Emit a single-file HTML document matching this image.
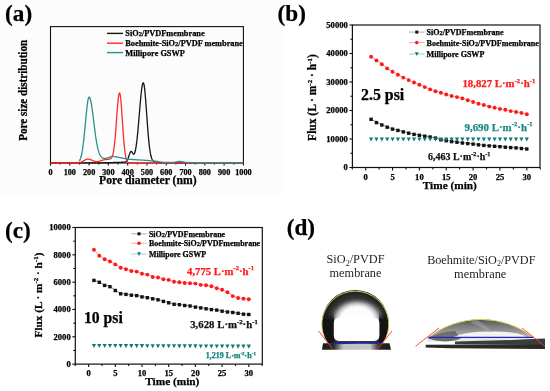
<!DOCTYPE html>
<html><head><meta charset="utf-8"><style>
html,body{margin:0;padding:0;background:#fff;}
body{width:550px;height:391px;overflow:hidden;}
svg{display:block;will-change:transform;font-family:"Liberation Serif", serif;}
</style></head><body>
<svg width="550" height="391" viewBox="0 0 550 391">
<rect width="550" height="391" fill="#fff"/>
<rect width="283" height="194" fill="#fcfcfc"/>
<text x="5.10" y="20.80" font-size="23.2" font-weight="bold" fill="#000" text-anchor="start" stroke="#000" stroke-width="0.25" >(a)</text>
<rect x="50.5" y="26.6" width="192.9" height="136.4" fill="none" stroke="#111" stroke-width="1.1"/>
<line x1="50.50" y1="163.0" x2="50.50" y2="165.6" stroke="#111" stroke-width="1.1"/>
<line x1="60.14" y1="163.0" x2="60.14" y2="164.6" stroke="#111" stroke-width="1.1"/>
<line x1="69.79" y1="163.0" x2="69.79" y2="165.6" stroke="#111" stroke-width="1.1"/>
<line x1="79.44" y1="163.0" x2="79.44" y2="164.6" stroke="#111" stroke-width="1.1"/>
<line x1="89.08" y1="163.0" x2="89.08" y2="165.6" stroke="#111" stroke-width="1.1"/>
<line x1="98.72" y1="163.0" x2="98.72" y2="164.6" stroke="#111" stroke-width="1.1"/>
<line x1="108.37" y1="163.0" x2="108.37" y2="165.6" stroke="#111" stroke-width="1.1"/>
<line x1="118.02" y1="163.0" x2="118.02" y2="164.6" stroke="#111" stroke-width="1.1"/>
<line x1="127.66" y1="163.0" x2="127.66" y2="165.6" stroke="#111" stroke-width="1.1"/>
<line x1="137.31" y1="163.0" x2="137.31" y2="164.6" stroke="#111" stroke-width="1.1"/>
<line x1="146.95" y1="163.0" x2="146.95" y2="165.6" stroke="#111" stroke-width="1.1"/>
<line x1="156.59" y1="163.0" x2="156.59" y2="164.6" stroke="#111" stroke-width="1.1"/>
<line x1="166.24" y1="163.0" x2="166.24" y2="165.6" stroke="#111" stroke-width="1.1"/>
<line x1="175.88" y1="163.0" x2="175.88" y2="164.6" stroke="#111" stroke-width="1.1"/>
<line x1="185.53" y1="163.0" x2="185.53" y2="165.6" stroke="#111" stroke-width="1.1"/>
<line x1="195.18" y1="163.0" x2="195.18" y2="164.6" stroke="#111" stroke-width="1.1"/>
<line x1="204.82" y1="163.0" x2="204.82" y2="165.6" stroke="#111" stroke-width="1.1"/>
<line x1="214.47" y1="163.0" x2="214.47" y2="164.6" stroke="#111" stroke-width="1.1"/>
<line x1="224.11" y1="163.0" x2="224.11" y2="165.6" stroke="#111" stroke-width="1.1"/>
<line x1="233.75" y1="163.0" x2="233.75" y2="164.6" stroke="#111" stroke-width="1.1"/>
<line x1="243.40" y1="163.0" x2="243.40" y2="165.6" stroke="#111" stroke-width="1.1"/>
<text x="50.50" y="174.90" font-size="8.2" font-weight="bold" fill="#000" text-anchor="middle" stroke="#000" stroke-width="0.25" >0</text>
<text x="69.79" y="174.90" font-size="8.2" font-weight="bold" fill="#000" text-anchor="middle" stroke="#000" stroke-width="0.25" >100</text>
<text x="89.08" y="174.90" font-size="8.2" font-weight="bold" fill="#000" text-anchor="middle" stroke="#000" stroke-width="0.25" >200</text>
<text x="108.37" y="174.90" font-size="8.2" font-weight="bold" fill="#000" text-anchor="middle" stroke="#000" stroke-width="0.25" >300</text>
<text x="127.66" y="174.90" font-size="8.2" font-weight="bold" fill="#000" text-anchor="middle" stroke="#000" stroke-width="0.25" >400</text>
<text x="146.95" y="174.90" font-size="8.2" font-weight="bold" fill="#000" text-anchor="middle" stroke="#000" stroke-width="0.25" >500</text>
<text x="166.24" y="174.90" font-size="8.2" font-weight="bold" fill="#000" text-anchor="middle" stroke="#000" stroke-width="0.25" >600</text>
<text x="185.53" y="174.90" font-size="8.2" font-weight="bold" fill="#000" text-anchor="middle" stroke="#000" stroke-width="0.25" >700</text>
<text x="204.82" y="174.90" font-size="8.2" font-weight="bold" fill="#000" text-anchor="middle" stroke="#000" stroke-width="0.25" >800</text>
<text x="224.11" y="174.90" font-size="8.2" font-weight="bold" fill="#000" text-anchor="middle" stroke="#000" stroke-width="0.25" >900</text>
<text x="243.40" y="174.90" font-size="8.2" font-weight="bold" fill="#000" text-anchor="middle" stroke="#000" stroke-width="0.25" >1000</text>
<text x="147.80" y="184.20" font-size="11.7" font-weight="bold" fill="#000" text-anchor="middle" stroke="#000" stroke-width="0.25" >Pore diameter (nm)</text>
<text transform="translate(27.4,90.3) rotate(-90)" x="-50.5" y="0" font-size="11.9" font-weight="bold" stroke="#000" stroke-width="0.25" textLength="101" lengthAdjust="spacingAndGlyphs">Pore size distribution</text>
<polyline points="50.50,163.00 50.89,163.00 51.27,163.00 51.66,163.00 52.04,162.99 52.43,162.99 52.81,162.99 53.20,162.99 53.59,162.99 53.97,162.99 54.36,162.99 54.74,162.98 55.13,162.98 55.52,162.98 55.90,162.98 56.29,162.98 56.67,162.98 57.06,162.98 57.44,162.97 57.83,162.97 58.22,162.97 58.60,162.97 58.99,162.97 59.37,162.97 59.76,162.97 60.14,162.96 60.53,162.96 60.92,162.96 61.30,162.96 61.69,162.96 62.07,162.96 62.46,162.96 62.85,162.95 63.23,162.95 63.62,162.95 64.00,162.95 64.39,162.95 64.77,162.95 65.16,162.95 65.55,162.94 65.93,162.94 66.32,162.94 66.70,162.94 67.09,162.94 67.48,162.94 67.86,162.94 68.25,162.93 68.63,162.93 69.02,162.93 69.40,162.93 69.79,162.93 70.18,162.93 70.56,162.93 70.95,162.92 71.33,162.92 71.72,162.92 72.10,162.92 72.49,162.92 72.88,162.92 73.26,162.92 73.65,162.91 74.03,162.91 74.42,162.91 74.81,162.91 75.19,162.91 75.58,162.91 75.96,162.91 76.35,162.90 76.73,162.90 77.12,162.90 77.51,162.90 77.89,162.90 78.28,162.90 78.66,162.90 79.05,162.89 79.44,162.89 79.82,162.89 80.21,162.89 80.59,162.89 80.98,162.89 81.36,162.89 81.75,162.88 82.14,162.88 82.52,162.88 82.91,162.88 83.29,162.88 83.68,162.88 84.06,162.88 84.45,162.87 84.84,162.87 85.22,162.87 85.61,162.87 85.99,162.87 86.38,162.87 86.77,162.87 87.15,162.86 87.54,162.86 87.92,162.86 88.31,162.86 88.69,162.86 89.08,162.86 89.47,162.86 89.85,162.85 90.24,162.85 90.62,162.85 91.01,162.85 91.39,162.85 91.78,162.85 92.17,162.85 92.55,162.84 92.94,162.84 93.32,162.84 93.71,162.84 94.10,162.84 94.48,162.84 94.87,162.84 95.25,162.83 95.64,162.83 96.02,162.83 96.41,162.83 96.80,162.83 97.18,162.83 97.57,162.83 97.95,162.82 98.34,162.82 98.72,162.82 99.11,162.82 99.50,162.82 99.88,162.82 100.27,162.82 100.65,162.81 101.04,162.81 101.43,162.81 101.81,162.81 102.20,162.81 102.58,162.81 102.97,162.81 103.35,162.80 103.74,162.80 104.13,162.80 104.51,162.79 104.90,162.78 105.28,162.77 105.67,162.76 106.06,162.75 106.44,162.74 106.83,162.73 107.21,162.72 107.60,162.70 107.98,162.69 108.37,162.68 108.76,162.67 109.14,162.66 109.53,162.64 109.91,162.63 110.30,162.62 110.68,162.61 111.07,162.60 111.46,162.58 111.84,162.57 112.23,162.56 112.61,162.55 113.00,162.54 113.39,162.52 113.77,162.51 114.16,162.50 114.54,162.49 114.93,162.48 115.31,162.46 115.70,162.45 116.09,162.44 116.47,162.43 116.86,162.42 117.24,162.40 117.63,162.39 118.02,162.38 118.40,162.37 118.79,162.36 119.17,162.34 119.56,162.33 119.94,162.32 120.33,162.31 120.72,162.30 121.10,162.28 121.49,162.27 121.87,162.26 122.26,162.25 122.64,162.23 123.03,162.21 123.42,162.19 123.80,162.15 124.19,162.11 124.57,162.05 124.96,161.97 125.35,161.86 125.73,161.70 126.12,161.48 126.50,161.17 126.89,160.75 127.27,160.17 127.66,159.44 128.05,158.53 128.43,157.48 128.82,156.31 129.20,155.10 129.59,153.92 129.97,152.89 130.36,152.09 130.75,151.58 131.13,151.41 131.52,151.55 131.90,151.96 132.29,152.54 132.68,153.16 133.06,153.71 133.45,154.06 133.83,154.13 134.22,153.85 134.60,153.16 134.99,152.05 135.38,150.52 135.76,148.56 136.15,146.19 136.53,143.42 136.92,140.27 137.31,136.77 137.69,132.93 138.08,128.80 138.46,124.43 138.85,119.88 139.23,115.22 139.62,110.53 140.01,105.91 140.39,101.46 140.78,97.27 141.16,93.44 141.55,90.08 141.93,87.28 142.32,85.10 142.71,83.62 143.09,82.87 143.48,82.91 143.86,83.94 144.25,85.95 144.64,88.87 145.02,92.59 145.41,96.97 145.79,101.86 146.18,107.10 146.56,112.53 146.95,118.00 147.34,123.37 147.72,128.53 148.11,133.36 148.49,137.81 148.88,141.83 149.26,145.40 149.65,148.51 150.04,151.17 150.42,153.41 150.81,155.28 151.19,156.80 151.58,158.02 151.97,158.99 152.35,159.74 152.74,160.33 153.12,160.77 153.51,161.10 153.89,161.34 154.28,161.52 154.67,161.65 155.05,161.74 155.44,161.81 155.82,161.85 156.21,161.88 156.59,161.91 156.98,161.92 157.37,161.94 157.75,161.95 158.14,161.96 158.52,161.96 158.91,163.00 159.30,163.00 159.68,163.00 160.07,163.00 160.45,163.00 160.84,163.00 161.22,163.00 161.61,163.00 162.00,163.00 162.38,163.00 162.77,163.00 163.15,163.00 163.54,163.00 163.93,163.00 164.31,163.00 164.70,163.00 165.08,163.00 165.47,163.00 165.85,163.00 166.24,163.00 166.63,163.00 167.01,163.00 167.40,163.00 167.78,163.00 168.17,163.00 168.55,163.00 168.94,163.00 169.33,163.00 169.71,163.00 170.10,163.00 170.48,163.00 170.87,163.00 171.26,163.00 171.64,163.00 172.03,163.00 172.41,163.00 172.80,163.00 173.18,163.00 173.57,163.00 173.96,163.00 174.34,163.00 174.73,163.00 175.11,163.00 175.50,163.00 175.88,163.00 176.27,163.00 176.66,163.00 177.04,163.00 177.43,163.00 177.81,163.00 178.20,163.00 178.59,163.00 178.97,163.00 179.36,163.00 179.74,163.00 180.13,163.00 180.51,163.00 180.90,163.00 181.29,163.00 181.67,163.00 182.06,163.00 182.44,163.00 182.83,163.00 183.22,163.00 183.60,163.00 183.99,163.00 184.37,163.00 184.76,163.00 185.14,163.00 185.53,163.00 185.92,163.00 186.30,163.00 186.69,163.00 187.07,163.00 187.46,163.00 187.84,163.00 188.23,163.00 188.62,163.00 189.00,163.00 189.39,163.00 189.77,163.00 190.16,163.00 190.55,163.00 190.93,163.00 191.32,163.00 191.70,163.00 192.09,163.00 192.47,163.00 192.86,163.00 193.25,163.00 193.63,163.00 194.02,163.00 194.40,163.00 194.79,163.00 195.18,163.00 195.56,163.00 195.95,163.00 196.33,163.00 196.72,163.00 197.10,163.00 197.49,163.00 197.88,163.00 198.26,163.00 198.65,163.00 199.03,163.00 199.42,163.00 199.80,163.00 200.19,163.00 200.58,163.00 200.96,163.00 201.35,163.00 201.73,163.00 202.12,163.00 202.51,163.00 202.89,163.00 203.28,163.00 203.66,163.00 204.05,163.00 204.43,163.00 204.82,163.00 205.21,163.00 205.59,163.00 205.98,163.00 206.36,163.00 206.75,163.00 207.13,163.00 207.52,163.00 207.91,163.00 208.29,163.00 208.68,163.00 209.06,163.00 209.45,163.00 209.84,163.00 210.22,163.00 210.61,163.00 210.99,163.00 211.38,163.00 211.76,163.00 212.15,163.00 212.54,163.00 212.92,163.00 213.31,163.00 213.69,163.00 214.08,163.00 214.47,163.00 214.85,163.00 215.24,163.00 215.62,163.00 216.01,163.00 216.39,163.00 216.78,163.00 217.17,163.00 217.55,163.00 217.94,163.00 218.32,163.00 218.71,163.00 219.09,163.00 219.48,163.00 219.87,163.00 220.25,163.00 220.64,163.00 221.02,163.00 221.41,163.00 221.80,163.00 222.18,163.00 222.57,163.00 222.95,163.00 223.34,163.00 223.72,163.00 224.11,163.00 224.50,163.00 224.88,163.00 225.27,163.00 225.65,163.00 226.04,163.00 226.42,163.00 226.81,163.00 227.20,163.00 227.58,163.00 227.97,163.00 228.35,163.00 228.74,163.00 229.13,163.00 229.51,163.00 229.90,163.00 230.28,163.00 230.67,163.00 231.05,163.00 231.44,163.00 231.83,163.00 232.21,163.00 232.60,163.00 232.98,163.00 233.37,163.00 233.75,163.00 234.14,163.00 234.53,163.00 234.91,163.00 235.30,163.00 235.68,163.00 236.07,163.00 236.46,163.00 236.84,163.00 237.23,163.00 237.61,163.00 238.00,163.00 238.38,163.00 238.77,163.00 239.16,163.00 239.54,163.00 239.93,163.00 240.31,163.00 240.70,163.00 241.09,163.00 241.47,163.00 241.86,163.00 242.24,163.00 242.63,163.00 243.01,163.00 243.40,163.00" fill="none" stroke="#151515" stroke-width="1.3" stroke-linejoin="round"/>
<polyline points="50.50,163.00 50.89,163.00 51.27,163.00 51.66,163.00 52.04,163.00 52.43,163.00 52.81,163.00 53.20,163.00 53.59,163.00 53.97,163.00 54.36,163.00 54.74,163.00 55.13,163.00 55.52,163.00 55.90,163.00 56.29,163.00 56.67,163.00 57.06,163.00 57.44,163.00 57.83,163.00 58.22,163.00 58.60,163.00 58.99,163.00 59.37,163.00 59.76,163.00 60.14,163.00 60.53,163.00 60.92,163.00 61.30,163.00 61.69,163.00 62.07,163.00 62.46,163.00 62.85,163.00 63.23,163.00 63.62,163.00 64.00,163.00 64.39,163.00 64.77,163.00 65.16,163.00 65.55,163.00 65.93,163.00 66.32,163.00 66.70,163.00 67.09,163.00 67.48,163.00 67.86,163.00 68.25,163.00 68.63,163.00 69.02,163.00 69.40,163.00 69.79,163.00 70.18,163.00 70.56,163.00 70.95,163.00 71.33,163.00 71.72,163.00 72.10,163.00 72.49,163.00 72.88,163.00 73.26,163.00 73.65,163.00 74.03,163.00 74.42,163.00 74.81,163.00 75.19,163.00 75.58,163.00 75.96,163.00 76.35,163.00 76.73,163.00 77.12,163.00 77.51,163.00 77.89,162.99 78.28,162.97 78.66,162.94 79.05,162.89 79.44,162.80 79.82,162.69 80.21,162.54 80.59,162.37 80.98,162.19 81.36,162.00 81.75,161.80 82.14,161.60 82.52,161.40 82.91,161.20 83.29,160.99 83.68,160.78 84.06,160.57 84.45,160.35 84.84,160.13 85.22,159.90 85.61,159.68 85.99,159.47 86.38,159.28 86.77,159.14 87.15,159.04 87.54,159.01 87.92,159.02 88.31,159.07 88.69,159.15 89.08,159.25 89.47,159.36 89.85,159.48 90.24,159.60 90.62,159.74 91.01,159.87 91.39,160.02 91.78,160.16 92.17,160.31 92.55,160.45 92.94,160.60 93.32,160.75 93.71,160.89 94.10,161.03 94.48,161.17 94.87,161.30 95.25,161.41 95.64,161.49 96.02,161.55 96.41,161.59 96.80,161.60 97.18,161.59 97.57,161.56 97.95,161.52 98.34,161.47 98.72,161.40 99.11,161.32 99.50,161.22 99.88,161.11 100.27,160.99 100.65,160.86 101.04,160.74 101.43,160.61 101.81,160.49 102.20,160.36 102.58,160.24 102.97,160.11 103.35,159.99 103.74,159.88 104.13,159.78 104.51,159.70 104.90,159.63 105.28,159.58 105.67,159.53 106.06,159.50 106.44,159.46 106.83,159.43 107.21,159.40 107.60,159.36 107.98,159.32 108.37,159.27 108.76,159.22 109.14,159.15 109.53,159.06 109.91,158.96 110.30,158.82 110.68,158.62 111.07,158.35 111.46,157.94 111.84,157.35 112.23,156.53 112.61,155.41 113.00,153.95 113.39,152.08 113.77,149.77 114.16,146.97 114.54,143.67 114.93,139.87 115.31,135.58 115.70,130.88 116.09,125.85 116.47,120.62 116.86,115.34 117.24,110.21 117.63,105.42 118.02,101.17 118.40,97.64 118.79,95.02 119.17,93.42 119.56,92.92 119.94,93.65 120.33,95.63 120.72,98.77 121.10,102.90 121.49,107.80 121.87,113.24 122.26,118.97 122.64,124.76 123.03,130.40 123.42,135.72 123.80,140.58 124.19,144.92 124.57,148.67 124.96,151.86 125.35,154.49 125.73,156.62 126.12,158.31 126.50,159.62 126.89,160.62 127.27,161.36 127.66,161.89 128.05,162.27 128.43,162.53 128.82,162.70 129.20,162.82 129.59,162.89 129.97,162.93 130.36,162.96 130.75,162.98 131.13,162.99 131.52,162.99 131.90,163.00 132.29,163.00 132.68,163.00 133.06,163.00 133.45,163.00 133.83,163.00 134.22,163.00 134.60,163.00 134.99,163.00 135.38,163.00 135.76,163.00 136.15,163.00 136.53,163.00 136.92,163.00 137.31,163.00 137.69,163.00 138.08,163.00 138.46,163.00 138.85,163.00 139.23,163.00 139.62,163.00 140.01,163.00 140.39,163.00 140.78,163.00 141.16,163.00 141.55,163.00 141.93,163.00 142.32,163.00 142.71,163.00 143.09,163.00 143.48,163.00 143.86,163.00 144.25,163.00 144.64,163.00 145.02,163.00 145.41,163.00 145.79,163.00 146.18,163.00 146.56,163.00 146.95,163.00 147.34,163.00 147.72,163.00 148.11,163.00 148.49,163.00 148.88,163.00 149.26,163.00 149.65,163.00 150.04,163.00 150.42,163.00 150.81,163.00 151.19,163.00 151.58,163.00 151.97,163.00 152.35,163.00 152.74,163.00 153.12,163.00 153.51,163.00 153.89,163.00 154.28,163.00 154.67,163.00 155.05,163.00 155.44,163.00 155.82,163.00 156.21,163.00 156.59,163.00 156.98,163.00 157.37,163.00 157.75,163.00 158.14,163.00 158.52,163.00 158.91,163.00 159.30,163.00 159.68,163.00 160.07,163.00 160.45,163.00 160.84,163.00 161.22,163.00 161.61,163.00 162.00,163.00 162.38,163.00 162.77,163.00 163.15,163.00 163.54,163.00 163.93,163.00 164.31,163.00 164.70,163.00 165.08,163.00 165.47,163.00 165.85,163.00 166.24,163.00 166.63,163.00 167.01,163.00 167.40,163.00 167.78,163.00 168.17,163.00 168.55,163.00 168.94,163.00 169.33,163.00 169.71,163.00 170.10,163.00 170.48,163.00 170.87,163.00 171.26,163.00 171.64,163.00 172.03,163.00 172.41,163.00 172.80,163.00 173.18,163.00 173.57,163.00 173.96,163.00 174.34,163.00 174.73,163.00 175.11,163.00 175.50,163.00 175.88,163.00 176.27,163.00 176.66,163.00 177.04,163.00 177.43,163.00 177.81,163.00 178.20,163.00 178.59,163.00 178.97,163.00 179.36,163.00 179.74,163.00 180.13,163.00 180.51,163.00 180.90,163.00 181.29,163.00 181.67,163.00 182.06,163.00 182.44,163.00 182.83,163.00 183.22,163.00 183.60,163.00 183.99,163.00 184.37,163.00 184.76,163.00 185.14,163.00 185.53,163.00 185.92,163.00 186.30,163.00 186.69,163.00 187.07,163.00 187.46,163.00 187.84,163.00 188.23,163.00 188.62,163.00 189.00,163.00 189.39,163.00 189.77,163.00 190.16,163.00 190.55,163.00 190.93,163.00 191.32,163.00 191.70,163.00 192.09,163.00 192.47,163.00 192.86,163.00 193.25,163.00 193.63,163.00 194.02,163.00 194.40,163.00 194.79,163.00 195.18,163.00 195.56,163.00 195.95,163.00 196.33,163.00 196.72,163.00 197.10,163.00 197.49,163.00 197.88,163.00 198.26,163.00 198.65,163.00 199.03,163.00 199.42,163.00 199.80,163.00 200.19,163.00 200.58,163.00 200.96,163.00 201.35,163.00 201.73,163.00 202.12,163.00 202.51,163.00 202.89,163.00 203.28,163.00 203.66,163.00 204.05,163.00 204.43,163.00 204.82,163.00 205.21,163.00 205.59,163.00 205.98,163.00 206.36,163.00 206.75,163.00 207.13,163.00 207.52,163.00 207.91,163.00 208.29,163.00 208.68,163.00 209.06,163.00 209.45,163.00 209.84,163.00 210.22,163.00 210.61,163.00 210.99,163.00 211.38,163.00 211.76,163.00 212.15,163.00 212.54,163.00 212.92,163.00 213.31,163.00 213.69,163.00 214.08,163.00 214.47,163.00 214.85,163.00 215.24,163.00 215.62,163.00 216.01,163.00 216.39,163.00 216.78,163.00 217.17,163.00 217.55,163.00 217.94,163.00 218.32,163.00 218.71,163.00 219.09,163.00 219.48,163.00 219.87,163.00 220.25,163.00 220.64,163.00 221.02,163.00 221.41,163.00 221.80,163.00 222.18,163.00 222.57,163.00 222.95,163.00 223.34,163.00 223.72,163.00 224.11,163.00 224.50,163.00 224.88,163.00 225.27,163.00 225.65,163.00 226.04,163.00 226.42,163.00 226.81,163.00 227.20,163.00 227.58,163.00 227.97,163.00 228.35,163.00 228.74,163.00 229.13,163.00 229.51,163.00 229.90,163.00 230.28,163.00 230.67,163.00 231.05,163.00 231.44,163.00 231.83,163.00 232.21,163.00 232.60,163.00 232.98,163.00 233.37,163.00 233.75,163.00 234.14,163.00 234.53,163.00 234.91,163.00 235.30,163.00 235.68,163.00 236.07,163.00 236.46,163.00 236.84,163.00 237.23,163.00 237.61,163.00 238.00,163.00 238.38,163.00 238.77,163.00 239.16,163.00 239.54,163.00 239.93,163.00 240.31,163.00 240.70,163.00 241.09,163.00 241.47,163.00 241.86,163.00 242.24,163.00 242.63,163.00 243.01,163.00 243.40,163.00" fill="none" stroke="#ff2a2a" stroke-width="1.3" stroke-linejoin="round"/>
<polyline points="79.05,161.44 79.44,160.91 79.82,160.22 80.21,159.36 80.59,158.31 80.98,157.04 81.36,155.53 81.75,153.75 82.14,151.69 82.52,149.33 82.91,146.67 83.29,143.69 83.68,140.41 84.06,136.86 84.45,133.07 84.84,129.09 85.22,125.00 85.61,120.86 85.99,116.77 86.38,112.82 86.77,109.11 87.15,105.75 87.54,102.83 87.92,100.44 88.31,98.64 88.69,97.51 89.08,97.08 89.47,97.22 89.85,97.81 90.24,98.83 90.62,100.25 91.01,102.04 91.39,104.16 91.78,106.58 92.17,109.23 92.55,112.09 92.94,115.08 93.32,118.17 93.71,121.31 94.10,124.45 94.48,127.54 94.87,130.56 95.25,133.46 95.64,136.22 96.02,138.83 96.41,141.25 96.80,143.49 97.18,145.54 97.57,147.38 97.95,149.04 98.34,150.51 98.72,151.81 99.11,152.94 99.50,153.91 99.88,154.75 100.27,155.46 100.65,156.06 101.04,156.57 101.43,156.99 101.81,157.34 102.20,157.63 102.58,157.87 102.97,158.05 103.35,158.20 103.74,158.31 104.13,158.40 104.51,158.45 104.90,158.47 105.28,158.46 105.67,158.42 106.06,158.35 106.44,158.26 106.83,158.15 107.21,158.02 107.60,157.89 107.98,157.76 108.37,157.62 108.76,157.48 109.14,157.34 109.53,157.20 109.91,157.06 110.30,156.92 110.68,156.78 111.07,156.66 111.46,156.55 111.84,156.46 112.23,156.41 112.61,156.39 113.00,156.40 113.39,156.43 113.77,156.48 114.16,156.54 114.54,156.60 114.93,156.67 115.31,156.73 115.70,156.80 116.09,156.87 116.47,156.93 116.86,157.00 117.24,157.07 117.63,157.14 118.02,157.21 118.40,157.29 118.79,157.36 119.17,157.44 119.56,157.52 119.94,157.60 120.33,157.68 120.72,157.76 121.10,157.84 121.49,157.92 121.87,158.00 122.26,158.08 122.64,158.16 123.03,158.24 123.42,158.32 123.80,158.40 124.19,158.48 124.57,158.56 124.96,158.64 125.35,158.72 125.73,158.80 126.12,158.88 126.50,158.95 126.89,159.02 127.27,159.09 127.66,159.14 128.05,159.19 128.43,159.23 128.82,159.26 129.20,159.29 129.59,159.32 129.97,159.34 130.36,159.37 130.75,159.39 131.13,159.42 131.52,159.44 131.90,159.46 132.29,159.49 132.68,159.51 133.06,159.54 133.45,159.56 133.83,159.58 134.22,159.61 134.60,159.63 134.99,159.66 135.38,159.68 135.76,159.70 136.15,159.73 136.53,159.75 136.92,159.78 137.31,159.80 137.69,159.82 138.08,159.85 138.46,159.87 138.85,159.90 139.23,159.92 139.62,159.94 140.01,159.97 140.39,159.99 140.78,160.02 141.16,160.04 141.55,160.06 141.93,160.09 142.32,160.11 142.71,160.14 143.09,160.16 143.48,160.18 143.86,160.21 144.25,160.23 144.64,160.26 145.02,160.28 145.41,160.30 145.79,160.33 146.18,160.36 146.56,160.38 146.95,160.41 147.34,160.44 147.72,160.47 148.11,160.51 148.49,160.54 148.88,160.58 149.26,160.61 149.65,160.65 150.04,160.68 150.42,160.72 150.81,160.76 151.19,160.79 151.58,160.83 151.97,160.86 152.35,160.90 152.74,160.93 153.12,160.97 153.51,161.00 153.89,161.04 154.28,161.08 154.67,161.12 155.05,161.16 155.44,161.20 155.82,161.25 156.21,161.31 156.59,161.36 156.98,161.42 157.37,161.48 157.75,161.55 158.14,161.61 158.52,161.67 158.91,161.73 159.30,161.80 159.68,161.86 160.07,161.92 160.45,161.98 160.84,162.05 161.22,162.10 161.61,162.16 162.00,162.20 162.38,162.24 162.77,162.27 163.15,162.29 163.54,162.30 163.93,162.31 164.31,162.32 164.70,162.32 165.08,162.32 165.47,162.33 165.85,162.33 166.24,162.33 166.63,162.34 167.01,162.34 167.40,162.34 167.78,162.35 168.17,162.35 168.55,162.35 168.94,162.36 169.33,162.36 169.71,162.36 170.10,162.37 170.48,162.37 170.87,162.37 171.26,162.38 171.64,162.38 172.03,162.38 172.41,162.38 172.80,162.38 173.18,162.37 173.57,162.35 173.96,162.32 174.34,162.27 174.73,162.22 175.11,162.15 175.50,162.08 175.88,162.00 176.27,161.92 176.66,161.84 177.04,161.76 177.43,161.68 177.81,161.60 178.20,161.53 178.59,161.46 178.97,161.41 179.36,161.37 179.74,161.36 180.13,161.37 180.51,161.41 180.90,161.46 181.29,161.53 181.67,161.60 182.06,161.68 182.44,161.76 182.83,161.84 183.22,161.92 183.60,162.00 183.99,162.08 184.37,162.15 184.76,162.22 185.14,162.28 185.53,162.34 185.92,162.38 186.30,162.42 186.69,162.44 187.07,162.47 187.46,162.49 187.84,162.50 188.23,162.52 188.62,162.54 189.00,162.56 189.39,162.57 189.77,162.59 190.16,162.61 190.55,162.63 190.93,162.64 191.32,162.66 191.70,162.68 192.09,162.70 192.47,162.71 192.86,162.72 193.25,162.73 193.63,162.74 194.02,162.74 194.40,162.75 194.79,162.75 195.18,162.75 195.56,162.75 195.95,162.75 196.33,162.75 196.72,162.75 197.10,162.75 197.49,162.75 197.88,162.75 198.26,162.75 198.65,162.75 199.03,162.75 199.42,162.75 199.80,162.75 200.19,162.75 200.58,162.75 200.96,162.75 201.35,162.75 201.73,162.75 202.12,162.75 202.51,162.75 202.89,162.75 203.28,162.75 203.66,162.75 204.05,162.75 204.43,162.75 204.82,162.75 205.21,162.75 205.59,162.75 205.98,162.75 206.36,162.75 206.75,162.75 207.13,162.75 207.52,162.75 207.91,162.75 208.29,162.75 208.68,162.75 209.06,162.75 209.45,162.75 209.84,162.75 210.22,162.75 210.61,162.75 210.99,162.75 211.38,162.75 211.76,162.75 212.15,162.75 212.54,162.75 212.92,162.75 213.31,162.75 213.69,162.75 214.08,162.75 214.47,162.75 214.85,162.75 215.24,162.75 215.62,162.75 216.01,162.75 216.39,162.75 216.78,162.75 217.17,162.75 217.55,162.75 217.94,162.75 218.32,162.75 218.71,162.75 219.09,162.75 219.48,162.75 219.87,162.75 220.25,162.75 220.64,162.75 221.02,162.75 221.41,162.75 221.80,162.75 222.18,162.75 222.57,162.75 222.95,162.75 223.34,162.75 223.72,162.75 224.11,162.75 224.50,162.75 224.88,162.75 225.27,162.75 225.65,162.75 226.04,162.75 226.42,162.75 226.81,162.75 227.20,162.75 227.58,162.75 227.97,162.75 228.35,162.75 228.74,162.75 229.13,162.75 229.51,162.75 229.90,162.75 230.28,162.75 230.67,162.75 231.05,162.75 231.44,162.75 231.83,162.75 232.21,162.75 232.60,162.75 232.98,162.75 233.37,162.75 233.75,162.75 234.14,162.75 234.53,162.75 234.91,162.75 235.30,162.75 235.68,162.75 236.07,162.75 236.46,162.75 236.84,162.75 237.23,162.75 237.61,162.75 238.00,162.75 238.38,162.75 238.77,162.75 239.16,162.75 239.54,162.75 239.93,162.75 240.31,162.75 240.70,162.75 241.09,162.75 241.47,162.75 241.86,162.75 242.24,162.75 242.63,162.75 243.01,162.75 243.40,162.75" fill="none" stroke="#2a9090" stroke-width="1.3" stroke-linejoin="round"/>
<line x1="107" y1="33.4" x2="123" y2="33.4" stroke="#151515" stroke-width="1.4"/>
<text x="125.30" y="36.40" font-size="8.3" font-weight="bold" fill="#000" text-anchor="start" stroke="#000" stroke-width="0.25" >SiO<tspan font-size="6.5">2</tspan>/PVDFmembrane</text>
<line x1="107" y1="43.2" x2="123" y2="43.2" stroke="#ff2a2a" stroke-width="1.4"/>
<text x="125.30" y="46.20" font-size="8.3" font-weight="bold" fill="#000" text-anchor="start" stroke="#000" stroke-width="0.25" >Boehmite-SiO<tspan font-size="6.5">2</tspan>/PVDF membrane</text>
<line x1="107" y1="52.6" x2="123" y2="52.6" stroke="#2a9090" stroke-width="1.4"/>
<text x="125.30" y="55.60" font-size="8.3" font-weight="bold" fill="#000" text-anchor="start" stroke="#000" stroke-width="0.25" >Millipore GSWP</text>
<text x="277.58" y="20.80" font-size="23.2" font-weight="bold" fill="#000" text-anchor="start" stroke="#000" stroke-width="0.25" >(b)</text>
<rect x="352.4" y="25.0" width="187.60000000000002" height="142.5" fill="none" stroke="#111" stroke-width="1.2"/>
<line x1="349.4" y1="167.50" x2="352.4" y2="167.50" stroke="#111" stroke-width="1.1"/>
<text x="347.80" y="170.40" font-size="8.6" font-weight="bold" fill="#000" text-anchor="end" stroke="#000" stroke-width="0.25" >0</text>
<line x1="350.4" y1="153.25" x2="352.4" y2="153.25" stroke="#111" stroke-width="1.1"/>
<line x1="349.4" y1="139.00" x2="352.4" y2="139.00" stroke="#111" stroke-width="1.1"/>
<text x="347.80" y="141.90" font-size="8.6" font-weight="bold" fill="#000" text-anchor="end" stroke="#000" stroke-width="0.25" >10000</text>
<line x1="350.4" y1="124.75" x2="352.4" y2="124.75" stroke="#111" stroke-width="1.1"/>
<line x1="349.4" y1="110.50" x2="352.4" y2="110.50" stroke="#111" stroke-width="1.1"/>
<text x="347.80" y="113.40" font-size="8.6" font-weight="bold" fill="#000" text-anchor="end" stroke="#000" stroke-width="0.25" >20000</text>
<line x1="350.4" y1="96.25" x2="352.4" y2="96.25" stroke="#111" stroke-width="1.1"/>
<line x1="349.4" y1="82.00" x2="352.4" y2="82.00" stroke="#111" stroke-width="1.1"/>
<text x="347.80" y="84.90" font-size="8.6" font-weight="bold" fill="#000" text-anchor="end" stroke="#000" stroke-width="0.25" >30000</text>
<line x1="350.4" y1="67.75" x2="352.4" y2="67.75" stroke="#111" stroke-width="1.1"/>
<line x1="349.4" y1="53.50" x2="352.4" y2="53.50" stroke="#111" stroke-width="1.1"/>
<text x="347.80" y="56.40" font-size="8.6" font-weight="bold" fill="#000" text-anchor="end" stroke="#000" stroke-width="0.25" >40000</text>
<line x1="350.4" y1="39.25" x2="352.4" y2="39.25" stroke="#111" stroke-width="1.1"/>
<line x1="349.4" y1="25.00" x2="352.4" y2="25.00" stroke="#111" stroke-width="1.1"/>
<text x="347.80" y="27.90" font-size="8.6" font-weight="bold" fill="#000" text-anchor="end" stroke="#000" stroke-width="0.25" >50000</text>
<line x1="352.27" y1="167.5" x2="352.27" y2="169.5" stroke="#111" stroke-width="1.1"/>
<line x1="365.70" y1="167.5" x2="365.70" y2="170.5" stroke="#111" stroke-width="1.1"/>
<text x="365.70" y="179.90" font-size="8.6" font-weight="bold" fill="#000" text-anchor="middle" stroke="#000" stroke-width="0.25" >0</text>
<line x1="379.12" y1="167.5" x2="379.12" y2="169.5" stroke="#111" stroke-width="1.1"/>
<line x1="392.55" y1="167.5" x2="392.55" y2="170.5" stroke="#111" stroke-width="1.1"/>
<text x="392.55" y="179.90" font-size="8.6" font-weight="bold" fill="#000" text-anchor="middle" stroke="#000" stroke-width="0.25" >5</text>
<line x1="405.97" y1="167.5" x2="405.97" y2="169.5" stroke="#111" stroke-width="1.1"/>
<line x1="419.40" y1="167.5" x2="419.40" y2="170.5" stroke="#111" stroke-width="1.1"/>
<text x="419.40" y="179.90" font-size="8.6" font-weight="bold" fill="#000" text-anchor="middle" stroke="#000" stroke-width="0.25" >10</text>
<line x1="432.82" y1="167.5" x2="432.82" y2="169.5" stroke="#111" stroke-width="1.1"/>
<line x1="446.25" y1="167.5" x2="446.25" y2="170.5" stroke="#111" stroke-width="1.1"/>
<text x="446.25" y="179.90" font-size="8.6" font-weight="bold" fill="#000" text-anchor="middle" stroke="#000" stroke-width="0.25" >15</text>
<line x1="459.68" y1="167.5" x2="459.68" y2="169.5" stroke="#111" stroke-width="1.1"/>
<line x1="473.10" y1="167.5" x2="473.10" y2="170.5" stroke="#111" stroke-width="1.1"/>
<text x="473.10" y="179.90" font-size="8.6" font-weight="bold" fill="#000" text-anchor="middle" stroke="#000" stroke-width="0.25" >20</text>
<line x1="486.52" y1="167.5" x2="486.52" y2="169.5" stroke="#111" stroke-width="1.1"/>
<line x1="499.95" y1="167.5" x2="499.95" y2="170.5" stroke="#111" stroke-width="1.1"/>
<text x="499.95" y="179.90" font-size="8.6" font-weight="bold" fill="#000" text-anchor="middle" stroke="#000" stroke-width="0.25" >25</text>
<line x1="513.38" y1="167.5" x2="513.38" y2="169.5" stroke="#111" stroke-width="1.1"/>
<line x1="526.80" y1="167.5" x2="526.80" y2="170.5" stroke="#111" stroke-width="1.1"/>
<text x="526.80" y="179.90" font-size="8.6" font-weight="bold" fill="#000" text-anchor="middle" stroke="#000" stroke-width="0.25" >30</text>
<line x1="540.23" y1="167.5" x2="540.23" y2="169.5" stroke="#111" stroke-width="1.1"/>
<polyline points="371.07,56.50 376.44,60.20 381.81,64.00 387.18,68.20 392.55,71.50 397.92,74.50 403.29,77.40 408.66,79.90 414.03,82.30 419.40,84.60 424.77,86.90 430.14,89.20 435.51,91.10 440.88,92.60 446.25,94.30 451.62,95.80 456.99,96.90 462.36,98.20 467.73,100.00 473.10,101.80 478.47,103.60 483.84,104.80 489.21,106.40 494.58,107.60 499.95,108.70 505.32,109.60 510.69,110.90 516.06,111.80 521.43,112.70 526.80,114.00" fill="none" stroke="#ff4040" stroke-width="0.6"/>
<polyline points="371.07,119.00 376.44,122.30 381.81,124.70 387.18,126.90 392.55,128.80 397.92,130.10 403.29,131.60 408.66,132.90 414.03,134.10 419.40,135.00 424.77,135.90 430.14,136.70 435.51,137.80 440.88,139.50 446.25,140.40 451.62,141.30 456.99,141.90 462.36,142.70 467.73,143.30 473.10,143.80 478.47,144.50 483.84,145.10 489.21,145.60 494.58,146.00 499.95,146.40 505.32,146.90 510.69,147.30 516.06,147.60 521.43,148.20 526.80,148.70" fill="none" stroke="#333" stroke-width="0.6"/>
<rect x="369.37" y="117.60" width="3.4" height="3.4" fill="#111"/>
<rect x="374.74" y="120.90" width="3.4" height="3.4" fill="#111"/>
<rect x="380.11" y="123.30" width="3.4" height="3.4" fill="#111"/>
<rect x="385.48" y="125.50" width="3.4" height="3.4" fill="#111"/>
<rect x="390.85" y="127.40" width="3.4" height="3.4" fill="#111"/>
<rect x="396.22" y="128.70" width="3.4" height="3.4" fill="#111"/>
<rect x="401.59" y="130.20" width="3.4" height="3.4" fill="#111"/>
<rect x="406.96" y="131.50" width="3.4" height="3.4" fill="#111"/>
<rect x="412.33" y="132.70" width="3.4" height="3.4" fill="#111"/>
<rect x="417.70" y="133.60" width="3.4" height="3.4" fill="#111"/>
<rect x="423.07" y="134.50" width="3.4" height="3.4" fill="#111"/>
<rect x="428.44" y="135.30" width="3.4" height="3.4" fill="#111"/>
<rect x="433.81" y="136.40" width="3.4" height="3.4" fill="#111"/>
<rect x="439.18" y="138.10" width="3.4" height="3.4" fill="#111"/>
<rect x="444.55" y="139.00" width="3.4" height="3.4" fill="#111"/>
<rect x="449.92" y="139.90" width="3.4" height="3.4" fill="#111"/>
<rect x="455.29" y="140.50" width="3.4" height="3.4" fill="#111"/>
<rect x="460.66" y="141.30" width="3.4" height="3.4" fill="#111"/>
<rect x="466.03" y="141.90" width="3.4" height="3.4" fill="#111"/>
<rect x="471.40" y="142.40" width="3.4" height="3.4" fill="#111"/>
<rect x="476.77" y="143.10" width="3.4" height="3.4" fill="#111"/>
<rect x="482.14" y="143.70" width="3.4" height="3.4" fill="#111"/>
<rect x="487.51" y="144.20" width="3.4" height="3.4" fill="#111"/>
<rect x="492.88" y="144.60" width="3.4" height="3.4" fill="#111"/>
<rect x="498.25" y="145.00" width="3.4" height="3.4" fill="#111"/>
<rect x="503.62" y="145.50" width="3.4" height="3.4" fill="#111"/>
<rect x="508.99" y="145.90" width="3.4" height="3.4" fill="#111"/>
<rect x="514.36" y="146.20" width="3.4" height="3.4" fill="#111"/>
<rect x="519.73" y="146.80" width="3.4" height="3.4" fill="#111"/>
<rect x="525.10" y="147.30" width="3.4" height="3.4" fill="#111"/>
<circle cx="371.07" cy="56.70" r="1.95" fill="#ff1a1a"/>
<circle cx="376.44" cy="60.40" r="1.95" fill="#ff1a1a"/>
<circle cx="381.81" cy="64.20" r="1.95" fill="#ff1a1a"/>
<circle cx="387.18" cy="68.40" r="1.95" fill="#ff1a1a"/>
<circle cx="392.55" cy="71.70" r="1.95" fill="#ff1a1a"/>
<circle cx="397.92" cy="74.70" r="1.95" fill="#ff1a1a"/>
<circle cx="403.29" cy="77.60" r="1.95" fill="#ff1a1a"/>
<circle cx="408.66" cy="80.10" r="1.95" fill="#ff1a1a"/>
<circle cx="414.03" cy="82.50" r="1.95" fill="#ff1a1a"/>
<circle cx="419.40" cy="84.80" r="1.95" fill="#ff1a1a"/>
<circle cx="424.77" cy="87.10" r="1.95" fill="#ff1a1a"/>
<circle cx="430.14" cy="89.40" r="1.95" fill="#ff1a1a"/>
<circle cx="435.51" cy="91.30" r="1.95" fill="#ff1a1a"/>
<circle cx="440.88" cy="92.80" r="1.95" fill="#ff1a1a"/>
<circle cx="446.25" cy="94.50" r="1.95" fill="#ff1a1a"/>
<circle cx="451.62" cy="96.00" r="1.95" fill="#ff1a1a"/>
<circle cx="456.99" cy="97.10" r="1.95" fill="#ff1a1a"/>
<circle cx="462.36" cy="98.40" r="1.95" fill="#ff1a1a"/>
<circle cx="467.73" cy="100.20" r="1.95" fill="#ff1a1a"/>
<circle cx="473.10" cy="102.00" r="1.95" fill="#ff1a1a"/>
<circle cx="478.47" cy="103.80" r="1.95" fill="#ff1a1a"/>
<circle cx="483.84" cy="105.00" r="1.95" fill="#ff1a1a"/>
<circle cx="489.21" cy="106.60" r="1.95" fill="#ff1a1a"/>
<circle cx="494.58" cy="107.80" r="1.95" fill="#ff1a1a"/>
<circle cx="499.95" cy="108.90" r="1.95" fill="#ff1a1a"/>
<circle cx="505.32" cy="109.80" r="1.95" fill="#ff1a1a"/>
<circle cx="510.69" cy="111.10" r="1.95" fill="#ff1a1a"/>
<circle cx="516.06" cy="112.00" r="1.95" fill="#ff1a1a"/>
<circle cx="521.43" cy="112.90" r="1.95" fill="#ff1a1a"/>
<circle cx="526.80" cy="114.20" r="1.95" fill="#ff1a1a"/>
<path d="M368.97,137.40L373.17,137.40L371.07,141.50Z" fill="#0e7a78"/>
<path d="M374.34,137.40L378.54,137.40L376.44,141.50Z" fill="#0e7a78"/>
<path d="M379.71,137.40L383.91,137.40L381.81,141.50Z" fill="#0e7a78"/>
<path d="M385.08,137.40L389.28,137.40L387.18,141.50Z" fill="#0e7a78"/>
<path d="M390.45,137.40L394.65,137.40L392.55,141.50Z" fill="#0e7a78"/>
<path d="M395.82,137.40L400.02,137.40L397.92,141.50Z" fill="#0e7a78"/>
<path d="M401.19,137.40L405.39,137.40L403.29,141.50Z" fill="#0e7a78"/>
<path d="M406.56,137.40L410.76,137.40L408.66,141.50Z" fill="#0e7a78"/>
<path d="M411.93,137.40L416.13,137.40L414.03,141.50Z" fill="#0e7a78"/>
<path d="M417.30,137.40L421.50,137.40L419.40,141.50Z" fill="#0e7a78"/>
<path d="M422.67,137.40L426.87,137.40L424.77,141.50Z" fill="#0e7a78"/>
<path d="M428.04,137.40L432.24,137.40L430.14,141.50Z" fill="#0e7a78"/>
<path d="M433.41,137.40L437.61,137.40L435.51,141.50Z" fill="#0e7a78"/>
<path d="M438.78,137.40L442.98,137.40L440.88,141.50Z" fill="#0e7a78"/>
<path d="M444.15,137.40L448.35,137.40L446.25,141.50Z" fill="#0e7a78"/>
<path d="M449.52,137.40L453.72,137.40L451.62,141.50Z" fill="#0e7a78"/>
<path d="M454.89,137.40L459.09,137.40L456.99,141.50Z" fill="#0e7a78"/>
<path d="M460.26,137.40L464.46,137.40L462.36,141.50Z" fill="#0e7a78"/>
<path d="M465.63,137.40L469.83,137.40L467.73,141.50Z" fill="#0e7a78"/>
<path d="M471.00,137.40L475.20,137.40L473.10,141.50Z" fill="#0e7a78"/>
<path d="M476.37,137.40L480.57,137.40L478.47,141.50Z" fill="#0e7a78"/>
<path d="M481.74,137.40L485.94,137.40L483.84,141.50Z" fill="#0e7a78"/>
<path d="M487.11,137.40L491.31,137.40L489.21,141.50Z" fill="#0e7a78"/>
<path d="M492.48,137.40L496.68,137.40L494.58,141.50Z" fill="#0e7a78"/>
<path d="M497.85,137.40L502.05,137.40L499.95,141.50Z" fill="#0e7a78"/>
<path d="M503.22,137.40L507.42,137.40L505.32,141.50Z" fill="#0e7a78"/>
<path d="M508.59,137.40L512.79,137.40L510.69,141.50Z" fill="#0e7a78"/>
<path d="M513.96,137.40L518.16,137.40L516.06,141.50Z" fill="#0e7a78"/>
<path d="M519.33,137.40L523.53,137.40L521.43,141.50Z" fill="#0e7a78"/>
<path d="M524.70,137.40L528.90,137.40L526.80,141.50Z" fill="#0e7a78"/>
<line x1="409" y1="32.1" x2="424.5" y2="32.1" stroke="#999" stroke-width="0.8"/>
<rect x="415.3" y="30.6" width="3" height="3" fill="#111"/>
<line x1="409" y1="42.6" x2="424.5" y2="42.6" stroke="#ff9090" stroke-width="0.8"/>
<circle cx="416.8" cy="42.6" r="1.8" fill="#ff1a1a"/>
<line x1="409" y1="54.0" x2="424.5" y2="54.0" stroke="#80c0c0" stroke-width="0.8"/>
<path d="M414.90000000000003,52.2L418.7,52.2L416.8,56.0Z" fill="#0e7a78"/>
<text x="426.60" y="35.00" font-size="8.05" font-weight="bold" fill="#000" text-anchor="start" stroke="#000" stroke-width="0.25" >SiO<tspan font-size="6.4">2</tspan>/PVDFmembrane</text>
<text x="426.60" y="45.50" font-size="8.05" font-weight="bold" fill="#000" text-anchor="start" stroke="#000" stroke-width="0.25" >Boehmite-SiO<tspan font-size="6.4">2</tspan>/PVDFmembrane</text>
<text x="426.60" y="56.90" font-size="8.05" font-weight="bold" fill="#000" text-anchor="start" stroke="#000" stroke-width="0.25" >Millipore GSWP</text>
<text x="449.80" y="188.90" font-size="11.3" font-weight="bold" fill="#000" text-anchor="middle" stroke="#000" stroke-width="0.25" >Time (min)</text>
<text transform="translate(316,97.5) rotate(-90)" font-size="11.5" font-weight="bold" stroke="#000" stroke-width="0.25" text-anchor="middle">Flux (L &#183; m<tspan dy="-4" font-size="7">-2</tspan><tspan dy="4"> &#183; h</tspan><tspan dy="-4" font-size="7">-1</tspan><tspan dy="4">)</tspan></text>
<text x="361.00" y="100.40" font-size="15.9" font-weight="bold" fill="#000" text-anchor="start" stroke="#000" stroke-width="0.25" >2.5 psi</text>
<text x="462.4" y="87.3" font-size="10.8" font-weight="bold" fill="#ff1a1a" stroke="#ff1a1a" stroke-width="0.25" text-anchor="start">18,827 L&#183;m<tspan dy="-4.10" font-size="6.70">-2</tspan><tspan dy="4.10">&#183;h</tspan><tspan dy="-4.10" font-size="6.70">-1</tspan></text>
<text x="464.5" y="130.5" font-size="10.9" font-weight="bold" fill="#1a8a88" stroke="#1a8a88" stroke-width="0.25" text-anchor="start">9,690 L&#183;m<tspan dy="-4.14" font-size="6.76">-2</tspan><tspan dy="4.14">&#183;h</tspan><tspan dy="-4.14" font-size="6.76">-1</tspan></text>
<text x="427.9" y="160.1" font-size="10.0" font-weight="bold" fill="#111" stroke="#111" stroke-width="0.25" text-anchor="start">6,463 L&#183;m<tspan dy="-3.80" font-size="6.20">-2</tspan><tspan dy="3.80">&#183;h</tspan><tspan dy="-3.80" font-size="6.20">-1</tspan></text>
<text x="4.98" y="238.00" font-size="23.2" font-weight="bold" fill="#000" text-anchor="start" stroke="#000" stroke-width="0.25" >(c)</text>
<rect x="75.3" y="227.5" width="187.0" height="136.60000000000002" fill="none" stroke="#111" stroke-width="1.2"/>
<line x1="72.3" y1="364.10" x2="75.3" y2="364.10" stroke="#111" stroke-width="1.1"/>
<text x="70.70" y="367.00" font-size="8.6" font-weight="bold" fill="#000" text-anchor="end" stroke="#000" stroke-width="0.25" >0</text>
<line x1="73.3" y1="350.44" x2="75.3" y2="350.44" stroke="#111" stroke-width="1.1"/>
<line x1="72.3" y1="336.78" x2="75.3" y2="336.78" stroke="#111" stroke-width="1.1"/>
<text x="70.70" y="339.68" font-size="8.6" font-weight="bold" fill="#000" text-anchor="end" stroke="#000" stroke-width="0.25" >2000</text>
<line x1="73.3" y1="323.12" x2="75.3" y2="323.12" stroke="#111" stroke-width="1.1"/>
<line x1="72.3" y1="309.46" x2="75.3" y2="309.46" stroke="#111" stroke-width="1.1"/>
<text x="70.70" y="312.36" font-size="8.6" font-weight="bold" fill="#000" text-anchor="end" stroke="#000" stroke-width="0.25" >4000</text>
<line x1="73.3" y1="295.80" x2="75.3" y2="295.80" stroke="#111" stroke-width="1.1"/>
<line x1="72.3" y1="282.14" x2="75.3" y2="282.14" stroke="#111" stroke-width="1.1"/>
<text x="70.70" y="285.04" font-size="8.6" font-weight="bold" fill="#000" text-anchor="end" stroke="#000" stroke-width="0.25" >6000</text>
<line x1="73.3" y1="268.48" x2="75.3" y2="268.48" stroke="#111" stroke-width="1.1"/>
<line x1="72.3" y1="254.82" x2="75.3" y2="254.82" stroke="#111" stroke-width="1.1"/>
<text x="70.70" y="257.72" font-size="8.6" font-weight="bold" fill="#000" text-anchor="end" stroke="#000" stroke-width="0.25" >8000</text>
<line x1="73.3" y1="241.16" x2="75.3" y2="241.16" stroke="#111" stroke-width="1.1"/>
<line x1="72.3" y1="227.50" x2="75.3" y2="227.50" stroke="#111" stroke-width="1.1"/>
<text x="70.70" y="230.40" font-size="8.6" font-weight="bold" fill="#000" text-anchor="end" stroke="#000" stroke-width="0.25" >10000</text>
<line x1="75.25" y1="364.1" x2="75.25" y2="366.1" stroke="#111" stroke-width="1.1"/>
<line x1="88.60" y1="364.1" x2="88.60" y2="367.1" stroke="#111" stroke-width="1.1"/>
<text x="88.60" y="376.00" font-size="8.6" font-weight="bold" fill="#000" text-anchor="middle" stroke="#000" stroke-width="0.25" >0</text>
<line x1="101.95" y1="364.1" x2="101.95" y2="366.1" stroke="#111" stroke-width="1.1"/>
<line x1="115.30" y1="364.1" x2="115.30" y2="367.1" stroke="#111" stroke-width="1.1"/>
<text x="115.30" y="376.00" font-size="8.6" font-weight="bold" fill="#000" text-anchor="middle" stroke="#000" stroke-width="0.25" >5</text>
<line x1="128.65" y1="364.1" x2="128.65" y2="366.1" stroke="#111" stroke-width="1.1"/>
<line x1="142.00" y1="364.1" x2="142.00" y2="367.1" stroke="#111" stroke-width="1.1"/>
<text x="142.00" y="376.00" font-size="8.6" font-weight="bold" fill="#000" text-anchor="middle" stroke="#000" stroke-width="0.25" >10</text>
<line x1="155.35" y1="364.1" x2="155.35" y2="366.1" stroke="#111" stroke-width="1.1"/>
<line x1="168.70" y1="364.1" x2="168.70" y2="367.1" stroke="#111" stroke-width="1.1"/>
<text x="168.70" y="376.00" font-size="8.6" font-weight="bold" fill="#000" text-anchor="middle" stroke="#000" stroke-width="0.25" >15</text>
<line x1="182.05" y1="364.1" x2="182.05" y2="366.1" stroke="#111" stroke-width="1.1"/>
<line x1="195.40" y1="364.1" x2="195.40" y2="367.1" stroke="#111" stroke-width="1.1"/>
<text x="195.40" y="376.00" font-size="8.6" font-weight="bold" fill="#000" text-anchor="middle" stroke="#000" stroke-width="0.25" >20</text>
<line x1="208.75" y1="364.1" x2="208.75" y2="366.1" stroke="#111" stroke-width="1.1"/>
<line x1="222.10" y1="364.1" x2="222.10" y2="367.1" stroke="#111" stroke-width="1.1"/>
<text x="222.10" y="376.00" font-size="8.6" font-weight="bold" fill="#000" text-anchor="middle" stroke="#000" stroke-width="0.25" >25</text>
<line x1="235.45" y1="364.1" x2="235.45" y2="366.1" stroke="#111" stroke-width="1.1"/>
<line x1="248.80" y1="364.1" x2="248.80" y2="367.1" stroke="#111" stroke-width="1.1"/>
<text x="248.80" y="376.00" font-size="8.6" font-weight="bold" fill="#000" text-anchor="middle" stroke="#000" stroke-width="0.25" >30</text>
<line x1="262.15" y1="364.1" x2="262.15" y2="366.1" stroke="#111" stroke-width="1.1"/>
<polyline points="93.94,249.50 99.28,255.50 104.62,259.10 109.96,261.30 115.30,264.20 120.64,267.50 125.98,269.10 131.32,270.80 136.66,271.40 142.00,273.60 147.34,274.40 152.68,276.80 158.02,277.30 163.36,279.00 168.70,279.70 174.04,281.60 179.38,282.00 184.72,282.80 190.06,283.10 195.40,283.40 200.74,284.70 206.08,285.10 211.42,286.00 216.76,288.00 222.10,289.60 227.44,292.10 232.78,295.90 238.12,297.80 243.46,298.60 248.80,299.00" fill="none" stroke="#ff4040" stroke-width="0.6"/>
<polyline points="93.94,280.10 99.28,282.00 104.62,285.10 109.96,286.40 115.30,290.20 120.64,293.50 125.98,294.10 131.32,294.90 136.66,295.30 142.00,296.60 147.34,297.40 152.68,298.50 158.02,299.50 163.36,301.10 168.70,302.50 174.04,304.00 179.38,304.40 184.72,305.20 190.06,305.70 195.40,306.80 200.74,307.60 206.08,308.50 211.42,309.30 216.76,309.80 222.10,310.90 227.44,311.70 232.78,312.20 238.12,313.00 243.46,313.90 248.80,314.20" fill="none" stroke="#333" stroke-width="0.6"/>
<rect x="92.24" y="278.70" width="3.4" height="3.4" fill="#111"/>
<rect x="97.58" y="280.60" width="3.4" height="3.4" fill="#111"/>
<rect x="102.92" y="283.70" width="3.4" height="3.4" fill="#111"/>
<rect x="108.26" y="285.00" width="3.4" height="3.4" fill="#111"/>
<rect x="113.60" y="288.80" width="3.4" height="3.4" fill="#111"/>
<rect x="118.94" y="292.10" width="3.4" height="3.4" fill="#111"/>
<rect x="124.28" y="292.70" width="3.4" height="3.4" fill="#111"/>
<rect x="129.62" y="293.50" width="3.4" height="3.4" fill="#111"/>
<rect x="134.96" y="293.90" width="3.4" height="3.4" fill="#111"/>
<rect x="140.30" y="295.20" width="3.4" height="3.4" fill="#111"/>
<rect x="145.64" y="296.00" width="3.4" height="3.4" fill="#111"/>
<rect x="150.98" y="297.10" width="3.4" height="3.4" fill="#111"/>
<rect x="156.32" y="298.10" width="3.4" height="3.4" fill="#111"/>
<rect x="161.66" y="299.70" width="3.4" height="3.4" fill="#111"/>
<rect x="167.00" y="301.10" width="3.4" height="3.4" fill="#111"/>
<rect x="172.34" y="302.60" width="3.4" height="3.4" fill="#111"/>
<rect x="177.68" y="303.00" width="3.4" height="3.4" fill="#111"/>
<rect x="183.02" y="303.80" width="3.4" height="3.4" fill="#111"/>
<rect x="188.36" y="304.30" width="3.4" height="3.4" fill="#111"/>
<rect x="193.70" y="305.40" width="3.4" height="3.4" fill="#111"/>
<rect x="199.04" y="306.20" width="3.4" height="3.4" fill="#111"/>
<rect x="204.38" y="307.10" width="3.4" height="3.4" fill="#111"/>
<rect x="209.72" y="307.90" width="3.4" height="3.4" fill="#111"/>
<rect x="215.06" y="308.40" width="3.4" height="3.4" fill="#111"/>
<rect x="220.40" y="309.50" width="3.4" height="3.4" fill="#111"/>
<rect x="225.74" y="310.30" width="3.4" height="3.4" fill="#111"/>
<rect x="231.08" y="310.80" width="3.4" height="3.4" fill="#111"/>
<rect x="236.42" y="311.60" width="3.4" height="3.4" fill="#111"/>
<rect x="241.76" y="312.50" width="3.4" height="3.4" fill="#111"/>
<rect x="247.10" y="312.80" width="3.4" height="3.4" fill="#111"/>
<circle cx="93.94" cy="249.70" r="1.95" fill="#ff1a1a"/>
<circle cx="99.28" cy="255.70" r="1.95" fill="#ff1a1a"/>
<circle cx="104.62" cy="259.30" r="1.95" fill="#ff1a1a"/>
<circle cx="109.96" cy="261.50" r="1.95" fill="#ff1a1a"/>
<circle cx="115.30" cy="264.40" r="1.95" fill="#ff1a1a"/>
<circle cx="120.64" cy="267.70" r="1.95" fill="#ff1a1a"/>
<circle cx="125.98" cy="269.30" r="1.95" fill="#ff1a1a"/>
<circle cx="131.32" cy="271.00" r="1.95" fill="#ff1a1a"/>
<circle cx="136.66" cy="271.60" r="1.95" fill="#ff1a1a"/>
<circle cx="142.00" cy="273.80" r="1.95" fill="#ff1a1a"/>
<circle cx="147.34" cy="274.60" r="1.95" fill="#ff1a1a"/>
<circle cx="152.68" cy="277.00" r="1.95" fill="#ff1a1a"/>
<circle cx="158.02" cy="277.50" r="1.95" fill="#ff1a1a"/>
<circle cx="163.36" cy="279.20" r="1.95" fill="#ff1a1a"/>
<circle cx="168.70" cy="279.90" r="1.95" fill="#ff1a1a"/>
<circle cx="174.04" cy="281.80" r="1.95" fill="#ff1a1a"/>
<circle cx="179.38" cy="282.20" r="1.95" fill="#ff1a1a"/>
<circle cx="184.72" cy="283.00" r="1.95" fill="#ff1a1a"/>
<circle cx="190.06" cy="283.30" r="1.95" fill="#ff1a1a"/>
<circle cx="195.40" cy="283.60" r="1.95" fill="#ff1a1a"/>
<circle cx="200.74" cy="284.90" r="1.95" fill="#ff1a1a"/>
<circle cx="206.08" cy="285.30" r="1.95" fill="#ff1a1a"/>
<circle cx="211.42" cy="286.20" r="1.95" fill="#ff1a1a"/>
<circle cx="216.76" cy="288.20" r="1.95" fill="#ff1a1a"/>
<circle cx="222.10" cy="289.80" r="1.95" fill="#ff1a1a"/>
<circle cx="227.44" cy="292.30" r="1.95" fill="#ff1a1a"/>
<circle cx="232.78" cy="296.10" r="1.95" fill="#ff1a1a"/>
<circle cx="238.12" cy="298.00" r="1.95" fill="#ff1a1a"/>
<circle cx="243.46" cy="298.80" r="1.95" fill="#ff1a1a"/>
<circle cx="248.80" cy="299.20" r="1.95" fill="#ff1a1a"/>
<path d="M91.84,343.90L96.04,343.90L93.94,348.00Z" fill="#0e7a78"/>
<path d="M97.18,343.92L101.38,343.92L99.28,348.02Z" fill="#0e7a78"/>
<path d="M102.52,343.95L106.72,343.95L104.62,348.05Z" fill="#0e7a78"/>
<path d="M107.86,343.97L112.06,343.97L109.96,348.07Z" fill="#0e7a78"/>
<path d="M113.20,344.00L117.40,344.00L115.30,348.10Z" fill="#0e7a78"/>
<path d="M118.54,344.02L122.74,344.02L120.64,348.12Z" fill="#0e7a78"/>
<path d="M123.88,344.04L128.08,344.04L125.98,348.14Z" fill="#0e7a78"/>
<path d="M129.22,344.07L133.42,344.07L131.32,348.17Z" fill="#0e7a78"/>
<path d="M134.56,344.09L138.76,344.09L136.66,348.19Z" fill="#0e7a78"/>
<path d="M139.90,344.12L144.10,344.12L142.00,348.22Z" fill="#0e7a78"/>
<path d="M145.24,344.14L149.44,344.14L147.34,348.24Z" fill="#0e7a78"/>
<path d="M150.58,344.17L154.78,344.17L152.68,348.27Z" fill="#0e7a78"/>
<path d="M155.92,344.19L160.12,344.19L158.02,348.29Z" fill="#0e7a78"/>
<path d="M161.26,344.21L165.46,344.21L163.36,348.31Z" fill="#0e7a78"/>
<path d="M166.60,344.24L170.80,344.24L168.70,348.34Z" fill="#0e7a78"/>
<path d="M171.94,344.26L176.14,344.26L174.04,348.36Z" fill="#0e7a78"/>
<path d="M177.28,344.29L181.48,344.29L179.38,348.39Z" fill="#0e7a78"/>
<path d="M182.62,344.31L186.82,344.31L184.72,348.41Z" fill="#0e7a78"/>
<path d="M187.96,344.33L192.16,344.33L190.06,348.43Z" fill="#0e7a78"/>
<path d="M193.30,344.36L197.50,344.36L195.40,348.46Z" fill="#0e7a78"/>
<path d="M198.64,344.38L202.84,344.38L200.74,348.48Z" fill="#0e7a78"/>
<path d="M203.98,344.41L208.18,344.41L206.08,348.51Z" fill="#0e7a78"/>
<path d="M209.32,344.43L213.52,344.43L211.42,348.53Z" fill="#0e7a78"/>
<path d="M214.66,344.46L218.86,344.46L216.76,348.56Z" fill="#0e7a78"/>
<path d="M220.00,344.48L224.20,344.48L222.10,348.58Z" fill="#0e7a78"/>
<path d="M225.34,344.50L229.54,344.50L227.44,348.60Z" fill="#0e7a78"/>
<path d="M230.68,344.53L234.88,344.53L232.78,348.63Z" fill="#0e7a78"/>
<path d="M236.02,344.55L240.22,344.55L238.12,348.65Z" fill="#0e7a78"/>
<path d="M241.36,344.58L245.56,344.58L243.46,348.68Z" fill="#0e7a78"/>
<path d="M246.70,344.60L250.90,344.60L248.80,348.70Z" fill="#0e7a78"/>
<line x1="131.3" y1="233.8" x2="146.5" y2="233.8" stroke="#999" stroke-width="0.8"/>
<rect x="137.5" y="232.3" width="3" height="3" fill="#111"/>
<line x1="131.3" y1="243.3" x2="146.5" y2="243.3" stroke="#ff9090" stroke-width="0.8"/>
<circle cx="139" cy="243.3" r="1.8" fill="#ff1a1a"/>
<line x1="131.3" y1="254.0" x2="146.5" y2="254.0" stroke="#80c0c0" stroke-width="0.8"/>
<path d="M137.1,252.2L140.9,252.2L139,256.0Z" fill="#0e7a78"/>
<text x="148.90" y="236.60" font-size="7.98" font-weight="bold" fill="#000" text-anchor="start" stroke="#000" stroke-width="0.25" >SiO<tspan font-size="6.4">2</tspan>/PVDFmembrane</text>
<text x="148.90" y="246.10" font-size="7.98" font-weight="bold" fill="#000" text-anchor="start" stroke="#000" stroke-width="0.25" >Boehmite-SiO<tspan font-size="6.4">2</tspan>/PVDFmembrane</text>
<text x="148.90" y="256.80" font-size="7.98" font-weight="bold" fill="#000" text-anchor="start" stroke="#000" stroke-width="0.25" >Millipore GSWP</text>
<text x="172.30" y="385.00" font-size="11.3" font-weight="bold" fill="#000" text-anchor="middle" stroke="#000" stroke-width="0.25" >Time (min)</text>
<text transform="translate(42.3,295) rotate(-90)" font-size="11.2" font-weight="bold" stroke="#000" stroke-width="0.25" text-anchor="middle">Flux (L &#183; m<tspan dy="-4" font-size="7">-2</tspan><tspan dy="4"> &#183; h</tspan><tspan dy="-4" font-size="7">-1</tspan><tspan dy="4">)</tspan></text>
<text x="84.00" y="323.40" font-size="15.7" font-weight="bold" fill="#000" text-anchor="start" stroke="#000" stroke-width="0.25" >10 psi</text>
<text x="187.1" y="274.5" font-size="10.7" font-weight="bold" fill="#ff1a1a" stroke="#ff1a1a" stroke-width="0.25" text-anchor="start">4,775 L&#183;m<tspan dy="-4.07" font-size="6.63">-2</tspan><tspan dy="4.07">&#183;h</tspan><tspan dy="-4.07" font-size="6.63">-1</tspan></text>
<text x="190.2" y="328.3" font-size="10.8" font-weight="bold" fill="#111" stroke="#111" stroke-width="0.25" text-anchor="start">3,628 L&#183;m<tspan dy="-4.10" font-size="6.70">-2</tspan><tspan dy="4.10">&#183;h</tspan><tspan dy="-4.10" font-size="6.70">-1</tspan></text>
<text x="205.8" y="358.3" font-size="8.0" font-weight="bold" fill="#108080" stroke="#108080" stroke-width="0.25" text-anchor="start">1,219 L&#183;m<tspan dy="-3.04" font-size="4.96">-2</tspan><tspan dy="3.04">&#183;h</tspan><tspan dy="-3.04" font-size="4.96">-1</tspan></text>
<text x="286.68" y="235.20" font-size="23.2" font-weight="bold" fill="#000" text-anchor="start" stroke="#000" stroke-width="0.25" >(d)</text>
<text x="355.5" y="263.3" font-size="12.3" fill="#222" text-anchor="middle">SiO<tspan dy="2.5" font-size="8">2</tspan><tspan dy="-2.5">/PVDF</tspan></text>
<text x="355.5" y="277.3" font-size="12.3" fill="#222" text-anchor="middle">membrane</text>
<text x="481.3" y="263.5" font-size="12.2" fill="#222" text-anchor="middle">Boehmite/SiO<tspan dy="2.5" font-size="8">2</tspan><tspan dy="-2.5">/PVDF</tspan></text>
<text x="480.2" y="277.6" font-size="12.4" fill="#222" text-anchor="middle">membrane</text>
<defs>
<radialGradient id="d1g" gradientUnits="userSpaceOnUse" cx="357" cy="320" r="30" gradientTransform="translate(357 320) scale(1 0.8) translate(-357 -320)">
<stop offset="0" stop-color="#fff"/><stop offset="0.55" stop-color="#fbfbfb"/><stop offset="0.68" stop-color="#c4c4c4"/><stop offset="0.8" stop-color="#6a6a6a"/><stop offset="0.9" stop-color="#363636"/><stop offset="1" stop-color="#333" stop-opacity="0"/>
</radialGradient>
<radialGradient id="d1b" gradientUnits="userSpaceOnUse" cx="355.5" cy="323" r="33.5">
<stop offset="0" stop-color="#505050"/><stop offset="0.75" stop-color="#333"/><stop offset="1" stop-color="#1a1a1a"/>
</radialGradient>
<clipPath id="d1c"><rect x="300" y="280" width="120" height="63.4"/></clipPath>
<clipPath id="d1s"><circle cx="355.3" cy="323.5" r="33.5"/></clipPath>
<linearGradient id="d2g" gradientUnits="userSpaceOnUse" x1="0" y1="319" x2="0" y2="338">
<stop offset="0" stop-color="#505050"/><stop offset="0.35" stop-color="#7a7a7a"/><stop offset="0.7" stop-color="#9a9a9a"/><stop offset="1" stop-color="#c8c8c8"/>
</linearGradient>
<linearGradient id="side1" gradientUnits="userSpaceOnUse" x1="0" y1="312" x2="0" y2="320"><stop offset="0" stop-color="#181818" stop-opacity="0"/><stop offset="1" stop-color="#141414"/></linearGradient>
<linearGradient id="sub1" gradientUnits="userSpaceOnUse" x1="323" y1="0" x2="390" y2="0">
<stop offset="0" stop-color="#1a1a1a"/><stop offset="0.16" stop-color="#2a2a2a"/><stop offset="0.3" stop-color="#c0c0c0"/><stop offset="0.7" stop-color="#c8c8c8"/><stop offset="0.84" stop-color="#2a2a2a"/><stop offset="1" stop-color="#1a1a1a"/>
</linearGradient>
</defs>
<g clip-path="url(#d1c)">
<circle cx="355.3" cy="323.5" r="33.5" fill="url(#d1b)"/>
<g clip-path="url(#d1s)"><ellipse cx="357" cy="320" rx="30" ry="24" fill="url(#d1g)"/>
<rect x="320" y="312" width="14" height="32" fill="url(#side1)"/><rect x="379" y="312" width="14" height="32" fill="url(#side1)"/></g>
<path d="M327.6,343.5 A33.5,33.5 0 1 1 383,343.5" fill="none" stroke="#e0dc60" stroke-width="0.9"/>
</g>
<rect x="333.8" y="317.5" width="45.6" height="23.6" rx="5.5" fill="#fff"/>
<path d="M323,343.3 L389.5,343.3 L391,349.8 L322,349.8 Z" fill="url(#sub1)"/>
<path d="M332.5,343.6 Q357,342.4 381.6,343.4" fill="none" stroke="#2020b8" stroke-width="1.4"/>
<line x1="318.6" y1="330.9" x2="333.2" y2="349.7" stroke="#ff3a3a" stroke-width="0.9"/>
<line x1="392" y1="331" x2="376.8" y2="349.7" stroke="#ff3a3a" stroke-width="0.9"/>
<path d="M427,338 L537,338 L537,341 L427,341.6 Z" fill="#e8e8e8"/>
<path d="M455,341.4 Q500,340.8 545,338.6 L545,345 L455,344.2 Z" fill="#3c3c3c"/>
<path d="M425.7,344.7 L545,344.3 L545,349 Q500,348.8 450,348.3 L425.7,347.4 Z" fill="#2a2a2a"/>
<path d="M428.3,337.6 L462,337.6 Q458,341.2 445,341.4 Q434,341 428.3,338.5 Z" fill="#6a6a6a"/>
<path d="M428.3,337.4 A85.6,85.6 0 0 1 533.4,337.4 Z" fill="url(#d2g)"/>
<path d="M428.3,337.4 Q440,332 455,331 L460,337.4 Z" fill="#555" opacity="0.7"/>
<path d="M453,337.2 Q466,332 485,331.6 Q510,330.5 524,335.5 L526,337.2 Z" fill="#f2f2f2"/>
<path d="M470,322 Q480,326 488,332 L492,332 Q486,325 478,320.5 Z" fill="#aaa" opacity="0.5"/>
<path d="M428.3,337.4 A85.6,85.6 0 0 1 533.4,337.4" fill="none" stroke="#e4de58" stroke-width="1"/>
<line x1="428.3" y1="337.4" x2="533.4" y2="337.4" stroke="#2525c0" stroke-width="1.4"/>
<line x1="415.6" y1="346.2" x2="439.1" y2="327.9" stroke="#ff3a3a" stroke-width="0.9"/>
<line x1="522" y1="327.9" x2="544.9" y2="346.4" stroke="#ff3a3a" stroke-width="0.9"/>
</svg></body></html>
